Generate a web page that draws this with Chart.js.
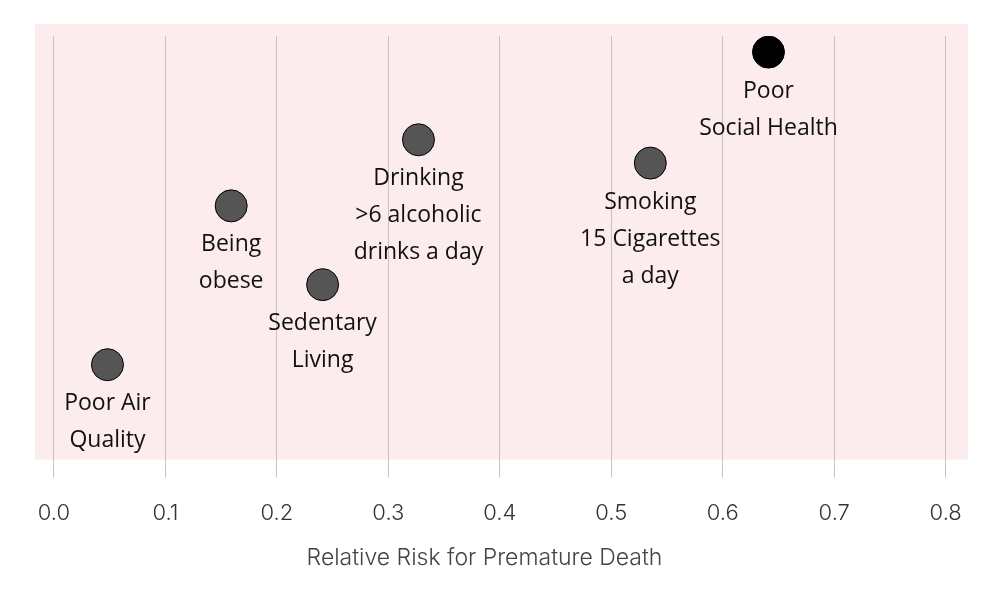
<!DOCTYPE html>
<html>
<head>
<meta charset="utf-8">
<script src="https://cdn.jsdelivr.net/npm/chart.js@4.4.1/dist/chart.umd.min.js"></script>
<style>
  html, body { margin: 0; padding: 0; background: #fff; }
  #wrap { width: 1000px; height: 602px; }
</style>
</head>
<body>
<div id="wrap"><canvas id="riskChart"></canvas></div>
<script>
// risk factors
const factors = [
    ['Poor Air', 'Quality'],
    ['Being', 'obese'],
    ['Sedentary', 'Living'],
    ['Drinking', '>6 alcoholic', 'drinks a day'],
    ['Smoking', '15 Cigarettes', 'a day'],
    ['Poor', 'Social Health']
];
const relativeRisk = [0.048, 0.159, 0.241, 0.327, 0.535, 0.641];
const rowPosition = [0.224, 0.599, 0.413, 0.755, 0.700, 0.962];
const pointColors = ['#555555', '#555555', '#555555', '#555555', '#555555', '#000000'];
const xTicks = [0.0, 0.1, 0.2, 0.3, 0.4, 0.5, 0.6, 0.7, 0.8];
const axisTitle = 'Relative Risk for Premature Death';

// pink panel behind the plot
const panelPlugin = {
    id: 'panel',
    beforeDraw(chart) {
        const { ctx, chartArea } = chart;
        ctx.save();
        ctx.fillStyle = '#fdeced';
        ctx.fillRect(chartArea.left, chartArea.top - 12, chartArea.right - chartArea.left, chartArea.bottom - chartArea.top + 12);
        ctx.restore();
    }
};

// multi-line labels under each point, plus the axis title
const labelPlugin = {
    id: 'pointLabels',
    afterDatasetsDraw(chart) {
        const ctx = chart.ctx;
        const meta = chart.getDatasetMeta(0);
        ctx.save();
        ctx.font = '23px "Open Sans"';
        ctx.fillStyle = '#111';
        ctx.textAlign = 'center';
        ctx.textBaseline = 'middle';
        meta.data.forEach((pt, i) => {
            factors[i].forEach((line, j) => {
                ctx.fillText(line, pt.x, pt.y + 39 + j * 37);
            });
        });
        // axis title sits a little left of centre in the original
        const area = chart.chartArea;
        ctx.font = '300 23px Inter';
        ctx.fillStyle = '#444';
        ctx.fillText(axisTitle, (area.left + area.right) / 2 - 17, area.bottom + 98);
        ctx.restore();
    }
};

new Chart(document.getElementById('riskChart'), {
    type: 'scatter',
    data: {
        datasets: [{
            data: relativeRisk.map((v, i) => ({ x: v, y: rowPosition[i] })),
            backgroundColor: pointColors,
            borderColor: '#000',
            borderWidth: 1,
            pointRadius: 16,
            pointHoverRadius: 16
        }]
    },
    options: {
        responsive: true,
        maintainAspectRatio: false,
        animation: false,
        layout: { padding: { left: 35, right: 32, top: 36, bottom: 52 } },
        plugins: {
            legend: { display: false },
            tooltip: { enabled: false }
        },
        scales: {
            x: {
                type: 'linear',
                min: -0.017,
                max: 0.82,
                afterBuildTicks: scale => { scale.ticks = xTicks.map(v => ({ value: v })); },
                border: { display: false },
                grid: {
                    color: '#c4c4c4',
                    lineWidth: 1,
                    tickLength: 18,
                    drawOnChartArea: true
                },
                ticks: {
                    color: '#333',
                    font: { family: 'Inter', size: 22, weight: 300 },
                    padding: 23,
                    callback: v => v.toFixed(1)
                }
            },
            y: {
                display: false,
                min: 0,
                max: 1
            }
        }
    },
    plugins: [panelPlugin, labelPlugin]
});
</script>
</body>
</html>
